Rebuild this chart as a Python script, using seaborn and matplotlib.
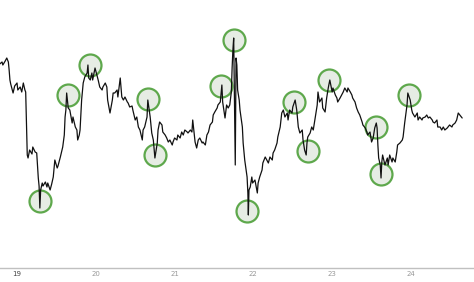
import matplotlib
matplotlib.use("Agg")
import matplotlib.pyplot as plt
import seaborn as sns
import pandas as pd

# time in (two-digit) years, level = price-like value
years = [
    18.78, 18.81, 18.82, 18.85, 18.87, 18.89, 18.90, 18.91, 18.92, 18.94, 18.95, 18.97,
    19.00, 19.01, 19.04, 19.06, 19.08, 19.10, 19.11, 19.13, 19.14, 19.16, 19.19, 19.20,
    19.23, 19.25, 19.27, 19.28, 19.29, 19.30, 19.32, 19.33, 19.36, 19.38, 19.39, 19.42,
    19.44, 19.46, 19.48, 19.51, 19.52, 19.55, 19.57, 19.58, 19.60, 19.61, 19.62, 19.63,
    19.65, 19.67, 19.70, 19.71, 19.74, 19.76, 19.77, 19.79, 19.80, 19.82, 19.84, 19.86,
    19.89, 19.90, 19.91, 19.93, 19.95, 19.96, 19.99, 20.02, 20.03, 20.05, 20.08, 20.09,
    20.12, 20.14, 20.15, 20.18, 20.21, 20.22, 20.24, 20.27, 20.28, 20.31, 20.33, 20.35,
    20.37, 20.40, 20.41, 20.43, 20.46, 20.47, 20.50, 20.52, 20.54, 20.56, 20.59, 20.60,
    20.62, 20.65, 20.66, 20.69, 20.71, 20.73, 20.75, 20.78, 20.79, 20.81, 20.84, 20.85,
    20.88, 20.90, 20.92, 20.94, 20.97, 20.98, 21.00, 21.03, 21.04, 21.07, 21.09, 21.11,
    21.13, 21.16, 21.17, 21.20, 21.22, 21.23, 21.25, 21.26, 21.28, 21.30, 21.32, 21.35,
    21.36, 21.39, 21.41, 21.43, 21.45, 21.48, 21.49, 21.51, 21.54, 21.55, 21.58, 21.59,
    21.60, 21.61, 21.64, 21.66, 21.68, 21.70, 21.72, 21.73, 21.74, 21.75, 21.756, 21.77,
    21.78, 21.79, 21.80, 21.82, 21.83, 21.86, 21.87, 21.89, 21.92, 21.93, 21.936, 21.944,
    21.96, 21.98, 21.99, 22.02, 22.05, 22.06, 22.08, 22.11, 22.12, 22.15, 22.17, 22.19,
    22.21, 22.24, 22.25, 22.27, 22.30, 22.31, 22.34, 22.36, 22.38, 22.40, 22.43, 22.44,
    22.46, 22.49, 22.50, 22.53, 22.55, 22.57, 22.59, 22.62, 22.63, 22.65, 22.67, 22.68,
    22.69, 22.72, 22.74, 22.76, 22.78, 22.81, 22.82, 22.84, 22.87, 22.88, 22.91, 22.93,
    22.95, 22.97, 23.00, 23.01, 23.04, 23.06, 23.07, 23.10, 23.12, 23.14, 23.16, 23.19,
    23.20, 23.23, 23.25, 23.26, 23.29, 23.31, 23.33, 23.35, 23.38, 23.39, 23.42, 23.44,
    23.45, 23.48, 23.50, 23.52, 23.54, 23.56, 23.57, 23.58, 23.59, 23.61, 23.62, 23.63,
    23.64, 23.67, 23.70, 23.71, 23.73, 23.76, 23.77, 23.80, 23.82, 23.83, 23.86, 23.89,
    23.90, 23.92, 23.95, 23.96, 23.99, 24.01, 24.02, 24.05, 24.08, 24.09, 24.11, 24.14,
    24.15, 24.18, 24.20, 24.22, 24.24, 24.27, 24.28, 24.30, 24.33, 24.34, 24.37, 24.39,
    24.41, 24.43, 24.46, 24.47, 24.49, 24.52, 24.53, 24.56, 24.58, 24.60, 24.62, 24.65,
]
levels = [
    206, 208, 205, 209, 212, 208, 200, 190, 186, 180, 177, 184,
    187, 180, 183, 178, 187, 180, 178, 115, 112, 120, 116, 123,
    118, 117, 92, 84, 62, 80, 87, 84, 88, 83, 87, 80,
    86, 93, 110, 102, 104, 113, 120, 123, 135, 153, 160, 177,
    162, 160, 147, 153, 143, 140, 130, 135, 140, 170, 187, 193,
    197, 205, 192, 190, 197, 190, 202, 193, 190, 183, 180, 183,
    187, 183, 170, 157, 170, 177, 177, 180, 173, 192, 173, 170,
    173, 168, 167, 163, 164, 160, 150, 153, 143, 140, 130, 140,
    143, 153, 170, 153, 137, 130, 112, 127, 140, 148, 145, 138,
    135, 132, 128, 130, 125, 128, 132, 130, 135, 132, 138, 135,
    140, 138, 137, 140, 138, 150, 135, 128, 122, 130, 132, 127,
    128, 125, 135, 138, 145, 148, 155, 158, 162, 165, 168, 177,
    185, 168, 152, 165, 162, 165, 178, 202, 220, 232, 195, 105,
    212, 205, 180, 170, 160, 143, 127, 110, 93, 77, 55, 80,
    83, 93, 87, 90, 77, 87, 93, 100, 107, 113, 110, 107,
    113, 110, 117, 120, 127, 133, 143, 157, 160, 153, 157, 150,
    160, 157, 163, 170, 160, 143, 137, 140, 130, 120, 115, 127,
    133, 137, 143, 140, 150, 165, 178, 168, 172, 162, 158, 172,
    182, 190, 178, 182, 175, 172, 168, 172, 175, 178, 182, 178,
    182, 178, 175, 172, 168, 162, 158, 155, 148, 145, 142, 138,
    135, 138, 128, 132, 142, 147, 142, 125, 112, 105, 92, 108,
    115, 105, 112, 105, 115, 108, 112, 108, 118, 125, 127, 130,
    133, 147, 165, 177, 170, 160, 157, 153, 157, 150, 153, 150,
    152, 153, 155, 152, 153, 150, 148, 147, 150, 143, 143, 140,
    143, 140, 142, 143, 145, 143, 145, 147, 150, 157, 155, 152,
    150, 147, 143,
]

# highlighted turning points (peaks and troughs)
pt_years = [19.29, 19.65, 19.93, 20.66, 20.75, 21.59, 21.75, 21.92, 22.51, 22.69, 22.96, 23.56, 23.62, 23.97]
pt_levels = [69, 175, 205, 171, 115, 184, 230, 59, 168, 119, 190, 143, 96, 175]

tick_years = [19, 20, 21, 22, 23, 24]
tick_labels = ["19", "20", "21", "22", "23", "24"]

n = min(len(years), len(levels))
df = pd.DataFrame({"year": years[:n], "level": levels[:n]})
pts = pd.DataFrame({"year": pt_years, "level": pt_levels})

sns.set_theme(style="white")
fig = plt.figure(figsize=(4.74, 2.82), dpi=100)
ax = fig.add_axes([0, 14 / 282, 1, 268 / 282])

sns.scatterplot(data=pts, x="year", y="level", ax=ax, s=250, marker="o",
                facecolor="#e6ece4", edgecolor="#5ea84c", linewidth=1.6, zorder=1)
sns.lineplot(data=df, x="year", y="level", ax=ax, sort=False, estimator=None,
             color="#111111", linewidth=0.9, zorder=2)

ax.set_xlim(18.784, 24.80)
ax.set_ylim(2, 270)
ax.set_xticks(tick_years)
ax.set_xticklabels(tick_labels)
ax.set_yticks([])
ax.set_xlabel("")
ax.set_ylabel("")
ax.tick_params(axis="x", length=0, pad=2.5, labelsize=5, labelcolor="#999999")
ax.get_xticklabels()[0].set_color("#444444")
for side in ["top", "left", "right"]:
    ax.spines[side].set_visible(False)
ax.spines["bottom"].set_color("#c0c0c0")
ax.spines["bottom"].set_linewidth(1.0)
ax.patch.set_alpha(0)

fig.savefig("out.png", dpi=100)
